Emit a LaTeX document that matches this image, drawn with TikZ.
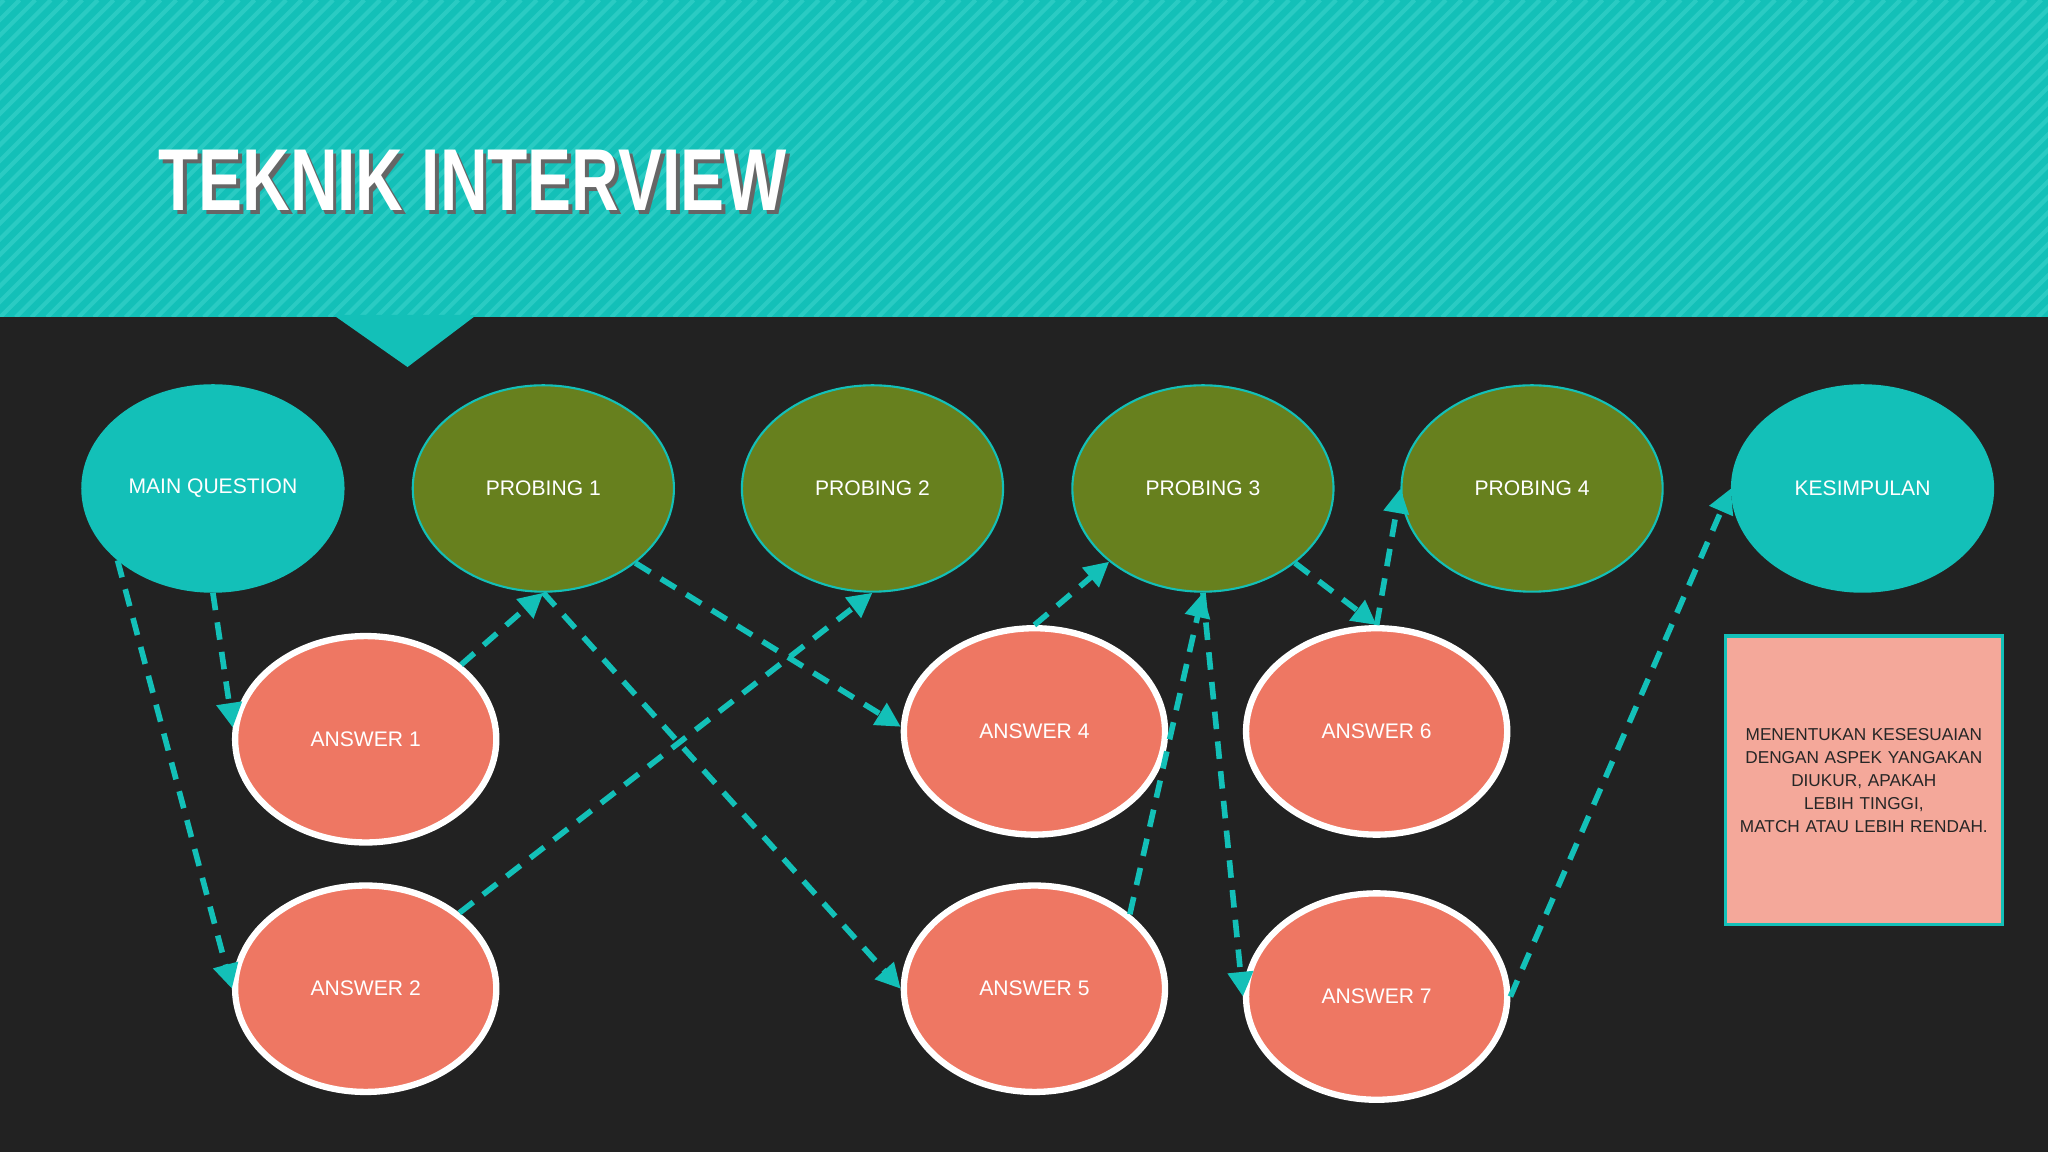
\documentclass[tikz,border=0pt]{standalone}
\usepackage{fontspec}
\setmainfont{Liberation Sans}
\usetikzlibrary{shapes.geometric,arrows.meta}
\definecolor{teal1}{HTML}{13C0B8}
\definecolor{teal2}{HTML}{2ACBC3}
\definecolor{olive}{HTML}{67801E}
\definecolor{salmon}{HTML}{EE7763}
\definecolor{pinkb}{HTML}{F4A89A}
\definecolor{bg}{HTML}{222222}
\begin{document}
\begin{tikzpicture}[x=0.013061cm,y=-0.013061cm,
  ell/.style={ellipse,minimum width=2.612cm,minimum height=2.064cm,inner sep=0pt,text=white,font=\fontsize{6}{7}\selectfont},
  top/.style={ell,draw=teal1,line width=0.6pt},
  ans/.style={ell,fill=salmon,draw=white,line width=1.8pt},
  link/.style={teal1,line width=1.6pt,dash pattern=on 5pt off 3.5pt,-{Triangle[length=7pt,width=7pt]}},
  ttl/.style={font=\bfseries\fontsize{25}{27}\selectfont,anchor=west,xscale=0.75}]
\useasboundingbox (0,0) rectangle (1568,882);
\fill[bg] (0,0) rectangle (1568,882);
\fill[teal1] (0,0) rectangle (1568,243);
\begin{scope}
\clip (0,0) rectangle (1568,242);
\foreach \i in {-300,-288,...,1568}
  \draw[teal2,line width=1.2pt] (\i,243) -- (\i+243,0);
\end{scope}
\fill[teal1] (255,241) -- (365,241) -- (312,281) -- cycle;
\node[ttl,text=black!60] at (117,141) {TEKNIK INTERVIEW};
\node[ttl,text=white] (title) at (114,138) {TEKNIK INTERVIEW};

\node[top,fill=teal1] (mq) at (163,374) {MAIN QUESTION};
\node[top,fill=olive] (p1) at (416,374) {PROBING 1};
\node[top,fill=olive] (p2) at (668,374) {PROBING 2};
\node[top,fill=olive] (p3) at (921,374) {PROBING 3};
\node[top,fill=olive] (p4) at (1173,374) {PROBING 4};
\node[top,fill=teal1] (kes) at (1426,374) {KESIMPULAN};
\node[ans] (a1) at (280,566) {ANSWER 1};
\node[ans] (a2) at (280,757) {ANSWER 2};
\node[ans] (a4) at (792,560) {ANSWER 4};
\node[ans] (a5) at (792,757) {ANSWER 5};
\node[ans] (a6) at (1054,560) {ANSWER 6};
\node[ans] (a7) at (1054,763) {ANSWER 7};
\node[draw=teal1,line width=1pt,fill=pinkb,minimum width=2.77cm,minimum height=2.886cm,text width=2.7cm,inner sep=0pt,
  align=center,text=black!85,font=\fontsize{4.9}{6.5}\selectfont] (box) at (1427,597.5)
  {MENENTUKAN KESESUAIAN\\DENGAN ASPEK YANGAKAN\\DIUKUR, APAKAH LEBIH TINGGI,\\MATCH ATAU LEBIH RENDAH.};

\draw[link] (mq.217) -- (a2.180);
\draw[link] (mq.south) -- (a1.175);
\draw[link] (a1.38) -- (p1.south);
\draw[link] (a2.39) -- (p2.south);
\draw[link] (p1.south) -- (a5.180);
\draw[link] (p1.321) -- (a4.178);
\draw[link] (a4.north) -- (p3.218);
\draw[link] (a5.38) -- (p3.south);
\draw[link] (p3.south) -- (a7.180);
\draw[link] (p3.321) -- (a6.north);
\draw[link] (a6.north) -- (p4.180);
\draw[link] (a7.east) -- (kes.180);
\end{tikzpicture}
\end{document}
